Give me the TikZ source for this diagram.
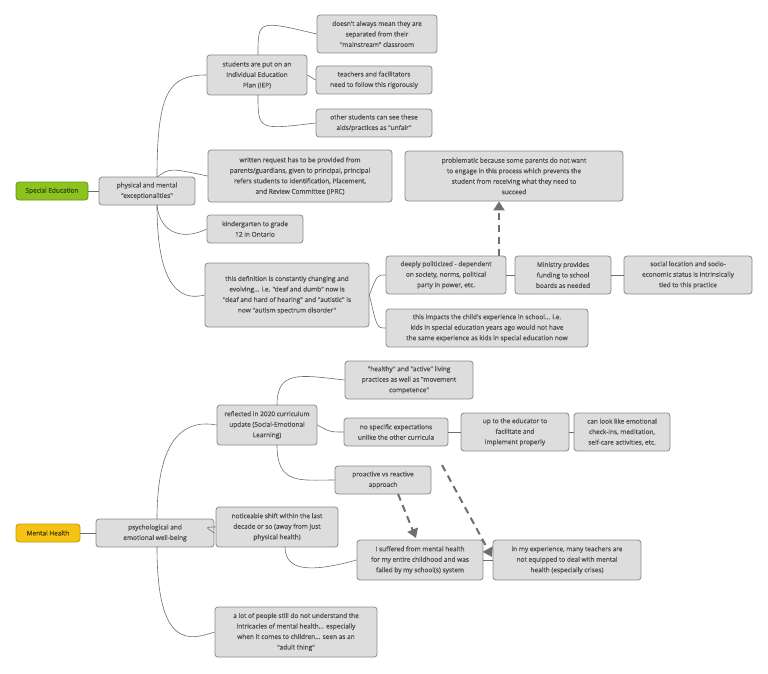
\documentclass[tikz,border=0pt]{standalone}
\usepackage{fontspec}
\setmainfont{Open Sans}
\newfontfamily\ofb{Open Sans}[FakeBold=1.2]
\usetikzlibrary{arrows.meta}
\definecolor{tx}{HTML}{555555}
\definecolor{bx}{HTML}{DDDDDD}
\definecolor{bd}{HTML}{8A8A8A}
\definecolor{ln}{HTML}{6E6E6E}
\begin{document}
\begin{tikzpicture}[x=1pt,y=-1pt,
 b/.style={draw=bd,fill=bx,rounded corners=3pt,line width=0.8pt,text=tx,font=\ofb\fontsize{6.5}{10.5}\selectfont,align=center,inner sep=2pt,minimum height=#1},
 b/.default=28,
 c/.style={draw=ln,line width=0.6pt},
 d/.style={draw=ln,line width=2pt,dash pattern=on 7pt off 5pt,-{Triangle[length=9pt,width=11pt]}}]
\useasboundingbox (0,0) rectangle (768,674);
\node[b=18,fill={rgb,255:red,140;green,195;blue,30},draw={rgb,255:red,100;green,150;blue,20},text={rgb,255:red,60;green,80;blue,20},minimum width=72] (se) at (52,191) {Special Education};
\node[b,minimum width=96] (ph) at (147,191) {physical and mental\\"exceptionalities"};
\node[b=40,minimum width=100] (iep) at (257,75) {students are put on an\\Individual Education\\Plan (IEP)};
\node[b=38,minimum width=120] (dn) at (377,34) {doesn't always mean they are\\separated from their\\"mainstream" classroom};
\node[b,minimum width=116] (tf) at (374,80) {teachers and facilitators\\need to follow this rigorously};
\node[b,minimum width=116] (os) at (374,123) {other students can see these\\aids/practices as "unfair"};
\node[b=52,minimum width=184] (wr) at (300,176) {written request has to be provided from\\parents/guardians, given to principal, principal\\refers students to Identification, Placement,\\and Review Committee (IPRC)};
\node[b=50,minimum width=218] (pr) at (514,176) {problematic because some parents do not want\\to engage in this process which prevents the\\student from receiving what they need to\\succeed};
\node[b,minimum width=96] (kg) at (255,229) {kindergarten to grade\\12 in Ontario};
\node[b=64,minimum width=164] (td) at (287,295) {this definition is constantly changing and\\evolving... i.e. "deaf and dumb" now is\\"deaf and hard of hearing" and "autistic" is\\now "autism spectrum disorder"};
\node[b=38,minimum width=120] (dp) at (446,275) {deeply politicized - dependent\\on society, norms, political\\party in power, etc.};
\node[b=38,minimum width=96] (mi) at (563,275) {Ministry provides\\funding to school\\boards as needed};
\node[b=38,minimum width=128] (sl) at (688,275) {social location and socio-\\economic status is intrinsically\\tied to this practice};
\node[b=38,minimum width=202] (im) at (487,328) {this impacts the child's experience in school... i.e.\\kids in special education years ago would not have\\the same experience as kids in special education now};
\node[b=18,fill={rgb,255:red,245;green,195;blue,20},draw={rgb,255:red,200;green,150;blue,10},text={rgb,255:red,90;green,70;blue,10},minimum width=64] (mh) at (48,533) {Mental Health};
\node[b,minimum width=118] (ps) at (155,533) {psychological and\\emotional well-being};
\node[b=40,minimum width=100] (rf) at (267,425) {reflected in 2020 curriculum\\update (Social-Emotional\\Learning)};
\node[b=38,minimum width=128] (hl) at (409,380) {"healthy" and "active" living\\practices as well as "movement\\competence"};
\node[b,minimum width=104] (ns) at (396,432) {no specific expectations\\unlike the other curricula};
\node[b=38,minimum width=108] (ut) at (515,432) {up to the educator to\\facilitate and\\implement properly};
\node[b=38,minimum width=96] (cl) at (622,432) {can look like emotional\\check-ins, meditation,\\self-care activities, etc.};
\node[b,minimum width=96] (pa) at (383,480) {proactive vs reactive\\approach};
\node[b=40,minimum width=122] (nt) at (277,527) {noticeable shift within the last\\decade or so (away from just\\physical health)};
\node[b=40,minimum width=126] (sf) at (420,560) {I suffered from mental health\\for my entire childhood and was\\failed by my school(s) system};
\node[b=40,minimum width=148] (ie) at (567,560) {in my experience, many teachers are\\not equipped to deal with mental\\health (especially crises)};
\node[b=50,minimum width=162] (al) at (296,632) {a lot of people still do not understand the\\intricacies of mental health... especially\\when it comes to children... seen as an\\"adult thing"};
% connectors
\draw[c] (se) -- (ph);
\draw[c] (157,177) .. controls (157,90) and (170,75) .. (iep.west);
\draw[c] (157,177) .. controls (170,168) .. (wr.west);
\draw[c] (157,205) .. controls (160,235) and (185,240) .. (kg.west);
\draw[c] (157,205) .. controls (157,295) and (185,300) .. (td.west);
\draw[c] (258,55) .. controls (258,20) .. (dn.west);
\draw[c] (iep.east) -- (tf.west);
\draw[c] (258,95) .. controls (258,130) .. (os.west);
\draw[c] (td.east) .. controls (377,275) .. (dp.west);
\draw[c] (td.east) .. controls (377,328) .. (im.west);
\draw[c] (dp) -- (mi); \draw[c] (mi) -- (sl);
\coordinate (a1) at (499,256);
\draw[d] (a1) -- (a1 |- pr.south);
\draw[c] (mh) -- (ps);
\draw[c] (157,519) .. controls (157,430) and (190,420) .. (rf.west);
\draw[c] (ps.east) .. controls (205,527) .. (nt.west);
\draw[c] (157,547) .. controls (157,650) and (190,640) .. (al.west);
\draw[c] (277,405) .. controls (277,370) and (300,375) .. (hl.west);
\draw[c] (rf.east) .. controls (330,432) .. (ns.west);
\draw[c] (277,445) .. controls (277,485) and (300,480) .. (pa.west);
\draw[c] (ns) -- (ut); \draw[c] (ut) -- (cl);
\draw[c] (285,547) .. controls (285,575) and (320,570) .. (sf.west);
\draw[c] (sf) -- (ie);
\draw[d] (398,494) -- (416,538);
\draw[d] (442,465) -- (492,557);
\end{tikzpicture}
\end{document}
